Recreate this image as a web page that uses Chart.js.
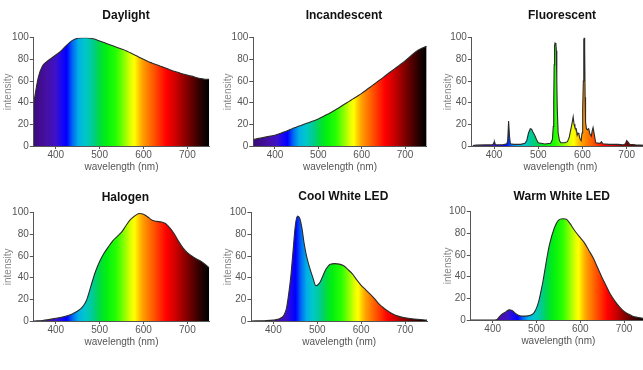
<!DOCTYPE html>
<html>
<head>
<meta charset="utf-8">
<title>Light source spectra</title>
<script src="https://cdn.jsdelivr.net/npm/chart.js@4.4.0/dist/chart.umd.min.js"></script>
<style>
  html, body { margin: 0; padding: 0; background: #fff; width: 643px; height: 370px; overflow: hidden; }
  canvas { position: absolute; }
</style>
</head>
<body>
<canvas id="daylight"></canvas>
<canvas id="incandescent"></canvas>
<canvas id="fluorescent"></canvas>
<canvas id="halogen"></canvas>
<canvas id="coolLed"></canvas>
<canvas id="warmLed"></canvas>
<script>
// Tick labels
const xTicks = [400, 500, 600, 700];
const yTicks = [0, 20, 40, 60, 80, 100];

// Wavelength grid (nm) shared by the smooth lamps
const nm10 = [350, 360, 370, 380, 390, 400, 410, 420, 430, 440, 450, 460, 470, 480, 490,
  500, 510, 520, 530, 540, 550, 560, 570, 580, 590, 600, 610, 620, 630, 640, 650,
  660, 670, 680, 690, 700, 710, 720, 730, 740, 750];

const daylight = [40, 63, 74, 78, 81, 84, 87, 91, 95, 98, 99.5, 100, 100, 99.5, 98.5,
  97, 95.5, 94, 92.5, 91, 89.5, 88, 86, 84, 82, 80, 78, 76.5, 75, 73.5, 72,
  70.5, 69, 67.8, 66.5, 65.5, 64.5, 63.3, 62.3, 61.7, 61.5];

const incandescent = [6, 6.8, 7.6, 8.4, 9.2, 10, 11.4, 12.8, 14.4, 16, 17.6, 19, 20.5, 22, 23.4,
  25, 27, 29, 31.2, 33.5, 36, 38.5, 41, 43.5, 46, 48.6, 51.5, 54.5, 57.5, 60.5, 63.4,
  66.5, 69.5, 72.5, 75.5, 78.5, 82, 85.5, 88.5, 90.5, 92];

const halogen = [0, 0.2, 0.5, 1, 1.7, 2.5, 3.3, 4.2, 5.3, 7, 9.2, 12.5, 19, 32, 45,
  55, 62.5, 68.5, 74, 78, 82, 88, 93.5, 97, 99.2, 98.6, 96, 93, 92, 91.5, 90,
  86, 80.5, 73.5, 67.5, 63, 60, 57.5, 55.5, 52.5, 49];

// Fluorescent lamp: narrow emission lines
const fluoNm = [352, 360, 380, 395, 398, 400, 401, 403, 406, 420, 429, 431, 433, 435, 437, 445,
  460, 470, 474, 478, 482, 485, 488, 492, 496, 500, 515, 528, 532, 534, 535, 536, 537, 538,
  540, 541, 542, 543, 545, 548, 551, 560, 566, 570, 573, 576, 579, 581, 583, 586, 588, 590,
  592, 594, 597, 599, 600, 601, 602, 603, 604, 605, 606, 607, 609, 611, 614, 617, 620, 622,
  624, 627, 630, 640, 643, 646, 660, 680, 692, 697, 700, 703, 707, 720, 740, 750];
const fluoVal = [0.5, 0.8, 1, 1, 1.5, 3.5, 4, 1.5, 1, 1.2, 2, 5, 23, 9, 2, 1.5,
  1.5, 2.5, 5, 12, 16, 15.5, 13, 10, 6, 3, 1.8, 2.5, 6, 18, 40, 75, 93, 95,
  94, 88, 60, 35, 12, 5, 3, 3, 4, 8, 14, 20, 27, 20, 17, 16, 10, 12,
  11, 7, 5, 12, 30, 34, 60, 98, 100, 90, 45, 22, 16, 15, 16, 11, 9, 14,
  17, 10, 3, 2.5, 4, 2, 1.5, 1.5, 1, 2, 5, 3.5, 1.5, 1, 0.7, 0.5];

// LEDs
const coolLedNm = [350, 380, 400, 410, 420, 425, 430, 435, 440, 445, 450, 455, 460, 465, 470, 475,
  480, 490, 497, 505, 510, 520, 530, 540, 550, 560, 570, 580, 590, 600, 610, 620, 630, 640,
  650, 660, 670, 680, 690, 700, 720, 750];
const coolLed = [0, 0.3, 0.8, 1.5, 3.5, 6, 12, 25, 42, 65, 88, 97, 95, 86, 72, 61,
  53, 40, 32.5, 35, 39, 48, 52.5, 53, 52.5, 51, 47.5, 43.5, 38, 33, 29, 25, 21, 16,
  12.5, 9.5, 7, 5, 3.8, 3, 1.8, 0.8];

const warmLedNm = [350, 400, 410, 415, 420, 430, 438, 445, 452, 460, 470, 480, 490, 495, 500, 505,
  510, 515, 520, 525, 530, 540, 550, 560, 565, 570, 580, 590, 600, 610, 620, 630, 640, 650,
  660, 670, 680, 690, 700, 710, 720, 730, 750];
const warmLed = [0, 0, 0.5, 3, 5, 7.5, 9.5, 8.5, 6, 4.2, 3.6, 3.8, 5, 7, 11, 17,
  26, 36, 48, 60, 70, 84, 92, 93.5, 93.3, 92.5, 87, 81, 76, 71, 64, 57, 48, 39,
  31, 23, 17, 12, 8, 5.5, 3.5, 2.5, 1.2];

// colour of the visible spectrum, by wavelength
const spectrumStops = [
  [350, '#3b0b7a'], [380, '#4610a6'], [400, '#3d12c8'], [413, '#1a08f0'], [425, '#0000ff'],
  [438, '#0068f4'], [452, '#00b0e6'], [468, '#00c8c8'], [485, '#00cc90'], [500, '#00dc40'],
  [515, '#00f010'], [538, '#28ff00'], [560, '#a0ff00'], [572, '#e8ff00'], [580, '#ffff00'],
  [588, '#ffd000'], [598, '#ffa000'], [614, '#ff7000'], [636, '#ff3000'], [652, '#ff0000'],
  [672, '#d00000'], [694, '#900000'], [716, '#500000'], [740, '#100000'], [750, '#000000']
];

// gradient is stretched between `from` and 750 nm
function spectrumFill(from) {
  return function (context) {
    const chart = context.chart;
    if (!chart.chartArea) return null;
    const x = chart.scales.x;
    const g = chart.ctx.createLinearGradient(x.getPixelForValue(from), 0, x.getPixelForValue(750), 0);
    spectrumStops.forEach(([w, c]) => g.addColorStop((w - 350) / 400, c));
    return g;
  };
}

// title drawn above each panel
const panelTitle = {
  id: 'panelTitle',
  afterDraw(chart, args, opts) {
    const ctx = chart.ctx;
    ctx.save();
    ctx.font = 'bold 12px "Liberation Sans", Arial, sans-serif';
    ctx.fillStyle = '#111';
    ctx.textAlign = 'center';
    ctx.textBaseline = 'middle';
    ctx.fillText(opts.text, opts.x, opts.y);
    ctx.restore();
  }
};

const tickFont = { family: '"Liberation Sans", Arial, sans-serif', size: 10 };

function makePanel(id, title, nm, vals, box, sharp) {
  const canvas = document.getElementById(id);
  canvas.width = box.w;
  canvas.height = box.h;
  canvas.style.left = box.left + 'px';
  canvas.style.top = box.top + 'px';

  return new Chart(canvas.getContext('2d'), {
    type: 'line',
    data: {
      datasets: [{
        data: nm.map((w, i) => ({ x: w, y: vals[i] })),
        borderColor: '#2b2b2b',
        borderWidth: 1.1,
        pointRadius: 0,
        fill: 'origin',
        backgroundColor: spectrumFill(box.from),
        tension: 0,
        cubicInterpolationMode: sharp ? 'default' : 'monotone'
      }]
    },
    options: {
      responsive: false,
      animation: false,
      layout: { padding: box.pad },
      plugins: {
        legend: { display: false },
        tooltip: { enabled: false },
        panelTitle: { text: title, x: box.tx, y: box.ty }
      },
      scales: {
        x: {
          type: 'linear',
          min: 350,
          max: 750,
          afterBuildTicks: s => { s.ticks = xTicks.map(v => ({ value: v })); },
          afterFit: s => { s.height = 34; },
          grid: { drawOnChartArea: false, tickLength: 3, color: '#555' },
          border: { color: '#555' },
          ticks: { padding: 0, maxRotation: 0, autoSkip: false, color: '#555', font: tickFont },
          title: { display: true, text: 'wavelength (nm)', color: '#555', font: tickFont, padding: { top: 0, bottom: 7 } }
        },
        y: {
          min: 0,
          max: 100,
          afterBuildTicks: s => { s.ticks = yTicks.map(v => ({ value: v })); },
          afterFit: s => { s.width = box.yw; },
          grid: { drawOnChartArea: false, tickLength: 4, color: '#555' },
          border: { color: '#555' },
          ticks: { padding: 1, color: '#555', font: tickFont },
          title: { display: true, text: 'intensity', color: '#888', font: tickFont, padding: { top: 2, bottom: 0 } }
        }
      }
    },
    plugins: [panelTitle]
  });
}

makePanel('daylight', 'Daylight', nm10, daylight,
  { left: 0, top: 0, w: 216, h: 180, yw: 33.8, pad: { left: 0, right: 6.7, top: 37.7, bottom: 0 }, tx: 126, ty: 16, from: 350 });
makePanel('incandescent', 'Incandescent', nm10, incandescent,
  { left: 216, top: 0, w: 216, h: 180, yw: 33.3, pad: { left: 4, right: 5.3, top: 37.7, bottom: 0 }, tx: 128, ty: 16, from: 355 });
makePanel('fluorescent', 'Fluorescent', fluoNm, fluoVal,
  { left: 432, top: 0, w: 222, h: 180, yw: 31.9, pad: { left: 8, right: 5.2, top: 37.7, bottom: 0 }, tx: 130, ty: 16, from: 352 }, true);
makePanel('halogen', 'Halogen', nm10, halogen,
  { left: 0, top: 180, w: 216, h: 190, yw: 33.8, pad: { left: 0, right: 6.7, top: 32.7, bottom: 15 }, tx: 125.3, ty: 17.5, from: 350 });
makePanel('coolLed', 'Cool White LED', coolLedNm, coolLed,
  { left: 216, top: 180, w: 216, h: 190, yw: 31.4, pad: { left: 4, right: 5, top: 32.7, bottom: 15 }, tx: 127.3, ty: 17, from: 382 });
makePanel('warmLed', 'Warm White LED', warmLedNm, warmLed,
  { left: 432, top: 180, w: 222, h: 190, yw: 30.8, pad: { left: 8, right: 8.1, top: 31.7, bottom: 16 }, tx: 129.7, ty: 17, from: 390 });
</script>
</body>
</html>
